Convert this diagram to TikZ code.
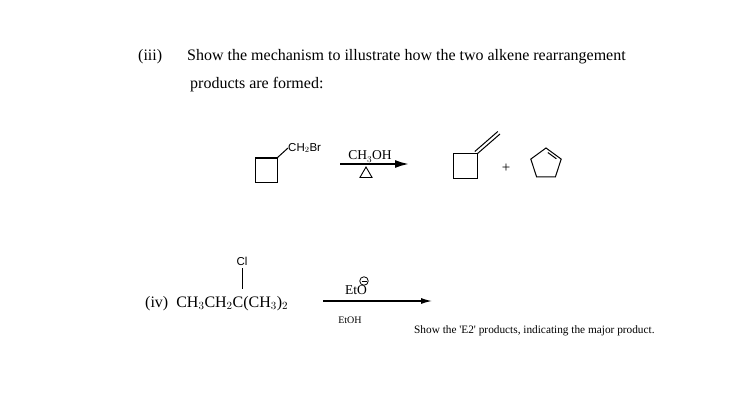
\documentclass[tikz,border=0pt]{standalone}
\usepackage{fontspec}
\usetikzlibrary{arrows.meta,shapes.geometric,calc}
\setmainfont{Liberation Serif}
\newfontfamily\arial{Liberation Sans}
\begin{document}
\begin{tikzpicture}[x=1pt,y=-1pt,bond/.style={line width=1pt},
 txt/.style={inner sep=0pt,anchor=base west,font=\fontsize{16}{18}\selectfont}]
\useasboundingbox (0,0) rectangle (732,412);
\node[txt] (t1) at (138,61) {(iii)};
\node[txt] (t2) at (187,61) {Show the mechanism to illustrate how the two alkene rearrangement};
\node[txt] (t3) at (190,89) {products are formed:};
% reactant
\draw[bond] (255,158) rectangle (277,182);
\coordinate (c1) at (277,158);
\node[inner sep=0pt,anchor=west,font=\arial\fontsize{11.5}{12}\selectfont] (br) at (288,148) {CH$_2$Br};
\draw[bond] (c1) -- (br.west);
% arrow
\coordinate (a1) at (340,164); \coordinate (a2) at (409,164);
\draw[line width=2pt,-{Latex[length=14pt,width=8pt]}] (a1) -- (a2);
\node[inner sep=0pt,anchor=base,font=\fontsize{13.5}{14}\selectfont] (s) at (370,160) {CH$_3$OH};
\node[draw,regular polygon,regular polygon sides=3,inner sep=0pt,minimum size=14pt,line width=0.9pt] (tri) at (366,174) {};
% product 1
\draw[bond] (453,154) rectangle (477,178);
\coordinate (p1) at (477,154); \coordinate (p2) at (500,134);
\draw[bond] (p1) -- (p2);
\draw[bond] ($(p1)+(-2.2,-2.5)$) -- ($(p2)+(-2.2,-2.5)$);
\node[font=\fontsize{15}{16}\selectfont] (plus) at (506,168) {+};
% cyclopentene
\coordinate (cen) at (546,164);
\coordinate (q0) at (546,148); \coordinate (q1) at (561.2,159.1);
\coordinate (q2) at (555.4,176.9); \coordinate (q3) at (536.6,176.9);
\coordinate (q4) at (530.8,159.1);
\draw[bond] (q0)--(q1)--(q2)--(q3)--(q4)--cycle;
\draw[bond] ($($(q0)!0.15!(q1)$)!0.2!(cen)$) -- ($($(q1)!0.15!(q0)$)!0.2!(cen)$);
% (iv)
\node[txt] (iv) at (145,307) {(iv)\enspace CH$_3$CH$_2$C(CH$_3$)$_2$};
\node[inner sep=0pt,font=\arial\fontsize{11.5}{12}\selectfont] (cl) at (242,261) {Cl};
\coordinate (cc) at (242,289);
\draw[bond] (242,268) -- (cc);
\coordinate (b1) at (323,301); \coordinate (b2) at (432,301);
\draw[line width=1.3pt,-{Latex[length=11pt,width=6pt]}] (b1) -- (b2);
\node[inner sep=0pt,anchor=base,font=\fontsize{13.5}{14}\selectfont] (eto) at (356,294) {EtO};
\node[draw,circle,inner sep=0pt,minimum size=8.5pt,line width=0.8pt] (neg) at (364,281) {};
\draw[line width=0.8pt] ([xshift=-2.5pt]neg.center) -- ([xshift=2.5pt]neg.center);
\node[inner sep=0pt,anchor=base,font=\fontsize{10}{11}\selectfont] (etoh) at (350,323) {EtOH};
\node[inner sep=0pt,anchor=base west,font=\fontsize{11.3}{12}\selectfont] (show) at (414,333) {Show the \textquotesingle E2\textquotesingle{} products, indicating the major product.};
\end{tikzpicture}
\end{document}
